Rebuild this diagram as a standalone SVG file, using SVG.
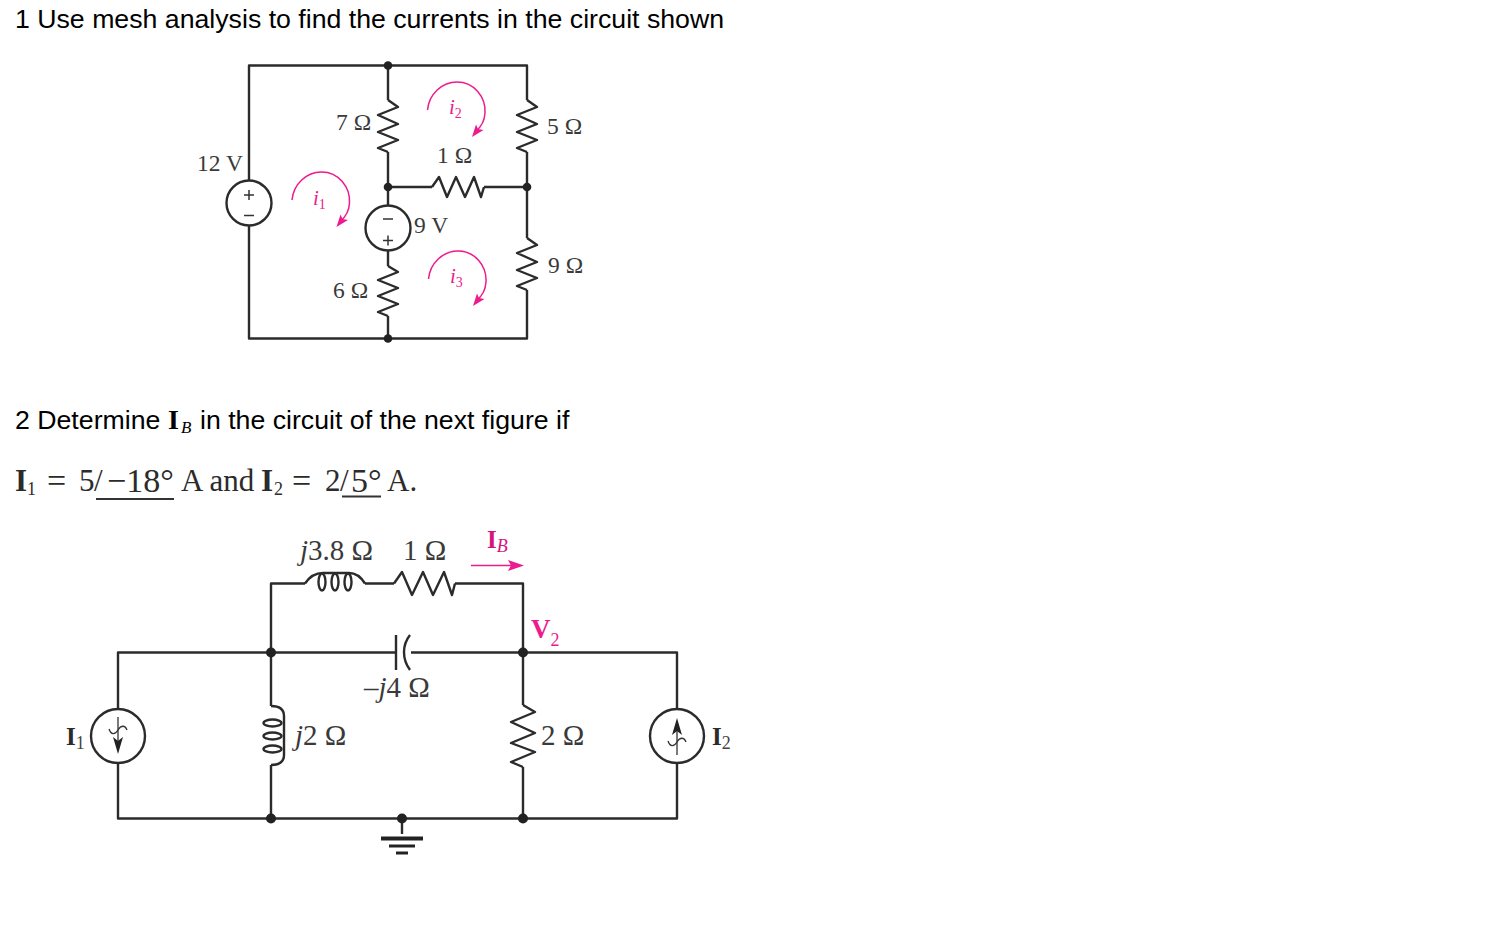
<svg xmlns="http://www.w3.org/2000/svg" width="1508" height="944" viewBox="0 0 1508 944">
<style>
.w{fill:none;stroke:#2b2b2b;stroke-width:2.400;stroke-linejoin:round}
.p{fill:none;stroke:#ec1c8e;stroke-width:1.500}
.pf{fill:#ec1c8e}
.d{fill:#222}
.s{font-family:"Liberation Sans",Arial,sans-serif;font-size:26.700px;fill:#000}
.t{font-family:"Liberation Serif","Times New Roman",serif;font-size:23.500px;fill:#3a3a3a}
.t2{font-family:"Liberation Serif","Times New Roman",serif;font-size:29px;fill:#3a3a3a}
.e{font-family:"Liberation Serif","Times New Roman",serif;font-size:31px;fill:#2b2b2b}
.e2{font-family:"Liberation Serif","Times New Roman",serif;font-size:34px;fill:#2b2b2b}
.es{font-family:"Liberation Serif","Times New Roman",serif;font-size:18px;fill:#2b2b2b}
.i{font-family:"Liberation Serif","Times New Roman",serif;font-size:21px;font-style:italic;fill:#ec1c8e}
.sb{font-size:14px;font-style:normal}
</style>
<defs>
<g id="mesh">
<path class="p" d="M-28.500 0C-27 -16 -14 -28 1 -28C18 -28 30 -13 29 3C28.500 11 25 17 20 21"/>
<path class="pf" d="M16 27L20 14.500L22 19L27.500 20Z"/>
</g>
</defs>
<text class="s" x="15" y="28">1 Use mesh analysis to find the currents in the circuit shown</text>
<text class="s" x="15" y="429">2 Determine</text>
<text x="168" y="429" font-family="Liberation Serif" font-weight="bold" font-size="28">I</text>
<text x="181" y="433" font-family="Liberation Serif" font-style="italic" font-size="17">B</text>
<text class="s" x="200" y="429">in the circuit of the next figure if</text>
<text class="e" x="15" y="491" font-weight="bold">I</text>
<text class="es" x="27" y="495">1</text>
<text class="e2" x="47" y="492">=</text>
<text class="e" x="79" y="491">5</text>
<text class="e" x="94" y="491">/</text>
<text class="e2" x="107" y="492">−18°</text>
<text class="e" x="181" y="491">A and</text>
<text class="e" x="261" y="491" font-weight="bold">I</text>
<text class="es" x="274" y="495">2</text>
<text class="e2" x="292" y="492">=</text>
<text class="e" x="325" y="491">2</text>
<text class="e" x="340" y="491">/</text>
<text class="e2" x="351" y="492">5°</text>
<text class="e" x="387" y="491">A.</text>
<path d="M96 499H174M342 496.500H381" fill="none" stroke="#333" stroke-width="1.800"/>
<g id="connectors">
<path class="w" d="M249 180V65.500H527V100M527 152V238M527 290V338.500H249V226"/>
<path class="w" d="M388 65.500V100M388 152V206M388 250V266M388 316V338.500M388 187H432M484 187H527"/>
<path class="w" d="M271 652V583.500H305M365 583.500H394M455 583.500H523V652"/>
<path class="w" d="M118 708V652.500H396M411 652.500H677V708M118 764V818.500H677V764"/>
<path class="w" d="M271 652V706M271 765V818M523 652V705M523 767V818"/>
<path class="w" d="M402 818V834"/>
</g>
<g id="r-7"><path class="w" d="M388 100L398 107L378 115L398 124L378 132L398 140L378 148L388 152"/><text class="t" x="336" y="130">7 Ω</text></g>
<g id="r-5"><path class="w" d="M527 100L537 107L517 115L537 124L517 132L537 140L517 148L527 152"/><text class="t" x="547" y="134">5 Ω</text></g>
<g id="r-1"><path class="w" d="M432 187L439 177L447 197L456 177L465 197L474 177L481 197L484 187"/><text class="t" x="437" y="163">1 Ω</text></g>
<g id="r-9"><path class="w" d="M527 238L537 245L517 253L537 262L517 270L537 278L517 286L527 290"/><text class="t" x="548" y="273">9 Ω</text></g>
<g id="r-6"><path class="w" d="M388 266L398 272L378 280L398 288L378 296L398 304L378 312L388 316"/><text class="t" x="333" y="298">6 Ω</text></g>
<g id="v-12"><circle class="w" cx="249" cy="203" r="22.500"/><path d="M244 195H254M249 190V200M244 215.500H254" fill="none" stroke="#333" stroke-width="1.500"/><text class="t" x="197" y="171">12 V</text></g>
<g id="v-9"><circle class="w" cx="388" cy="228" r="22.500"/><path d="M383 219H393M383 240.500H393M388 235.500V245.500" fill="none" stroke="#333" stroke-width="1.500"/><text class="t" x="414" y="233">9 V</text></g>
<g id="mesh-1"><use href="#mesh" x="320.500" y="200"/><text class="i" x="313" y="205">i<tspan class="sb" dy="4">1</tspan></text></g>
<g id="mesh-2"><use href="#mesh" x="456" y="110"/><text class="i" x="449" y="114">i<tspan class="sb" dy="4">2</tspan></text></g>
<g id="mesh-3"><use href="#mesh" x="457" y="279"/><text class="i" x="450" y="283">i<tspan class="sb" dy="4">3</tspan></text></g>
<g id="nodes-1" class="d"><circle cx="388" cy="65.500" r="4.300"/><circle cx="388" cy="187" r="4.300"/><circle cx="527" cy="187" r="4.300"/><circle cx="388" cy="338.500" r="4.300"/></g>
<g id="l-38"><path class="w" d="M305 583.500C310 576 316 573 323 573H349C356 573 361 577 365 583.500"/><ellipse class="w" cx="322" cy="582" rx="3.500" ry="8.500"/><ellipse class="w" cx="335" cy="582" rx="3.500" ry="8.500"/><ellipse class="w" cx="348" cy="582" rx="3.500" ry="8.500"/><text class="t2" x="300" y="560"><tspan font-style="italic">j</tspan>3.8 Ω</text></g>
<g id="r-1b"><path class="w" d="M394 583.500L402 572L412 595L423 572L433 595L444 572L452 595L455 583.500"/><text class="t2" x="403" y="560">1 Ω</text></g>
<g id="ib"><path d="M471 565.500H514" fill="none" stroke="#ec1c8e" stroke-width="1.600"/><path class="pf" d="M524 565.500L508 560L511 565.500L508 571Z"/><text x="487" y="548" font-family="Liberation Serif" font-size="25" font-weight="bold" fill="#d6147f">I<tspan font-size="18" font-style="italic" font-weight="normal" dy="4">B</tspan></text></g>
<g id="v2"><text x="531" y="638" font-family="Liberation Serif" font-size="27" font-weight="bold" fill="#ec1c8e">V<tspan font-size="18" font-weight="normal" dy="8">2</tspan></text></g>
<g id="cap"><path class="w" d="M396 635V670M410 635C402 645 402 659 410 670"/><text class="t2" x="364" y="697">–<tspan font-style="italic">j</tspan>4 Ω</text></g>
<g id="l-2"><path class="w" d="M271 706C280 706 284 710 284 716V755C284 761 280 765 271 765"/><ellipse class="w" cx="272.500" cy="723" rx="9" ry="3.500"/><ellipse class="w" cx="272.500" cy="736" rx="9" ry="3.500"/><ellipse class="w" cx="272.500" cy="749" rx="9" ry="3.500"/><text class="t2" x="295" y="745"><tspan font-style="italic">j</tspan>2 Ω</text></g>
<g id="r-2"><path class="w" d="M523 705L535 712L511 722L535 733L511 743L535 752L511 762L523 767"/><text class="t2" x="541" y="745">2 Ω</text></g>
<g id="i-1"><circle class="w" cx="118" cy="736" r="27"/><path d="M118 717V744" fill="none" stroke="#333" stroke-width="1.300"/><path class="d" d="M118 754L113 737L118 741L123 737Z"/><path d="M109 729C111 735 115 735 118 730C121 725 125 725 127 730" fill="none" stroke="#333" stroke-width="1.300"/><text x="66" y="745" font-family="Liberation Serif" font-size="25" font-weight="bold" fill="#2b2b2b">I<tspan font-size="18" font-weight="normal" fill="#444" dy="4">1</tspan></text></g>
<g id="i-2"><circle class="w" cx="677" cy="736" r="27"/><path d="M677 728V755" fill="none" stroke="#333" stroke-width="1.300"/><path class="d" d="M677 718L672 735L677 731L682 735Z"/><path d="M668 741C670 747 674 747 677 742C680 737 684 737 686 742" fill="none" stroke="#333" stroke-width="1.300"/><text x="712" y="745" font-family="Liberation Serif" font-size="25" font-weight="bold" fill="#2b2b2b">I<tspan font-size="18" font-weight="normal" fill="#444" dy="4">2</tspan></text></g>
<g id="ground"><path d="M381 838.500H423" stroke="#222" stroke-width="4" fill="none"/><path d="M389 846H415" stroke="#222" stroke-width="3" fill="none"/><path d="M396 853H408" stroke="#222" stroke-width="3" fill="none"/></g>
<g id="nodes-2" class="d"><circle cx="271" cy="652.500" r="5"/><circle cx="523" cy="652.500" r="5"/><circle cx="271" cy="818.500" r="5"/><circle cx="402" cy="818.500" r="5"/><circle cx="523" cy="818.500" r="5"/></g>
</svg>
